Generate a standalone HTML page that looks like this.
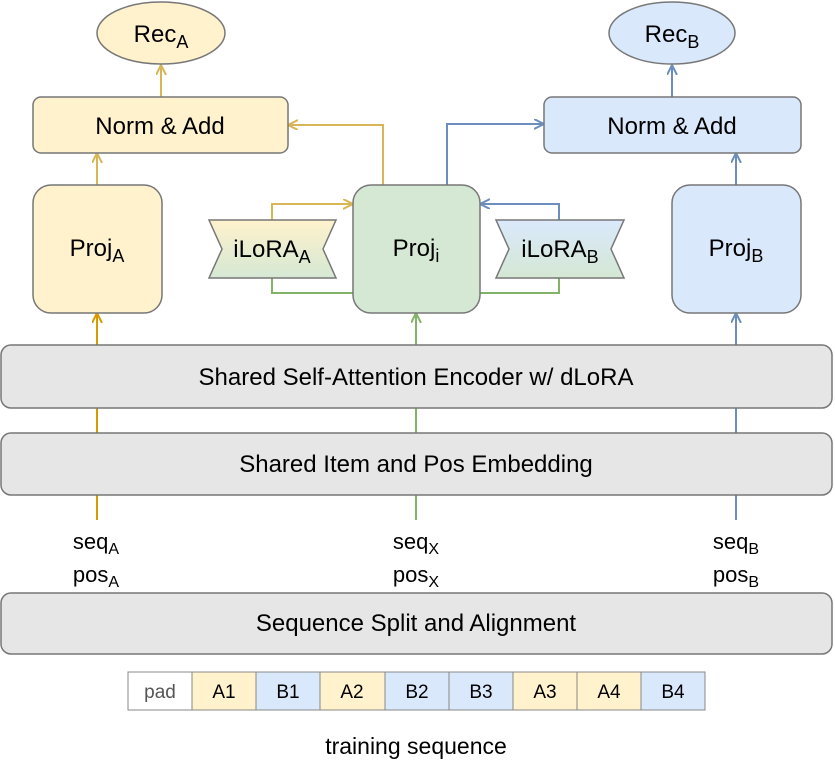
<!DOCTYPE html>
<html><head><meta charset="utf-8"><style>
html,body{margin:0;padding:0;background:#fff;}
svg{display:block;font-family:"Liberation Sans",Arial,sans-serif;}
</style></head><body>
<svg width="835" height="774" viewBox="0 0 835 774" xmlns="http://www.w3.org/2000/svg">
<defs>
<marker id="ay" markerWidth="12" markerHeight="12" refX="9" refY="5" orient="auto" markerUnits="userSpaceOnUse"><path d="M0,0 L10,5 L0,10" fill="none" stroke="#d6b656" stroke-width="2"/></marker>
<marker id="ab" markerWidth="12" markerHeight="12" refX="9" refY="5" orient="auto" markerUnits="userSpaceOnUse"><path d="M0,0 L10,5 L0,10" fill="none" stroke="#6c8ebf" stroke-width="2"/></marker>
<marker id="ag" markerWidth="12" markerHeight="12" refX="9" refY="5" orient="auto" markerUnits="userSpaceOnUse"><path d="M0,0 L10,5 L0,10" fill="none" stroke="#82b366" stroke-width="2"/></marker>
<marker id="ao" markerWidth="12" markerHeight="12" refX="9" refY="5" orient="auto" markerUnits="userSpaceOnUse"><path d="M0,0 L10,5 L0,10" fill="none" stroke="#d79b00" stroke-width="2"/></marker>
<linearGradient id="gy" x1="0" y1="0" x2="0" y2="1"><stop offset="0" stop-color="#fff2cc"/><stop offset="1" stop-color="#d5e8d4"/></linearGradient>
<linearGradient id="gb" x1="0" y1="0" x2="0" y2="1"><stop offset="0" stop-color="#dae8fc"/><stop offset="1" stop-color="#d5e8d4"/></linearGradient>
</defs>

<g fill="none" stroke-width="2">
<line x1="161" y1="97" x2="161" y2="66" stroke="#d6b656" marker-end="url(#ay)"/>
<line x1="97" y1="185" x2="97" y2="154" stroke="#d6b656" marker-end="url(#ay)"/>
<polyline points="383,185 383,125 289,125" stroke="#d6b656" marker-end="url(#ay)"/>
<line x1="672" y1="97" x2="672" y2="66" stroke="#6c8ebf" marker-end="url(#ab)"/>
<line x1="736" y1="185" x2="736" y2="154" stroke="#6c8ebf" marker-end="url(#ab)"/>
<polyline points="447,185 447,124 543,124" stroke="#6c8ebf" marker-end="url(#ab)"/>
<polyline points="272,220 272,204 352,204" stroke="#d6b656" marker-end="url(#ay)"/>
<polyline points="272,278 272,293 353,293" stroke="#82b366"/>
<polyline points="559,220 559,204 481,204" stroke="#6c8ebf" marker-end="url(#ab)"/>
<polyline points="559,278 559,293 480,293" stroke="#82b366"/>
<line x1="97" y1="345" x2="97" y2="314" stroke="#d79b00" marker-end="url(#ao)"/>
<line x1="416" y1="345" x2="416" y2="314" stroke="#82b366" marker-end="url(#ag)"/>
<line x1="736" y1="345" x2="736" y2="314" stroke="#6c8ebf" marker-end="url(#ab)"/>
<line x1="97" y1="408" x2="97" y2="433" stroke="#d79b00"/>
<line x1="416" y1="408" x2="416" y2="433" stroke="#82b366"/>
<line x1="736" y1="408" x2="736" y2="433" stroke="#6c8ebf"/>
<line x1="97" y1="495" x2="97" y2="520" stroke="#d79b00"/>
<line x1="416" y1="495" x2="416" y2="520" stroke="#82b366"/>
<line x1="736" y1="495" x2="736" y2="520" stroke="#6c8ebf"/>
</g>

<g stroke="#777" stroke-width="1.5">
<ellipse cx="161" cy="33" rx="64" ry="31" fill="#fff2cc"/>
<ellipse cx="672" cy="33" rx="63" ry="31" fill="#dae8fc"/>
<rect x="33" y="97" width="255" height="56" rx="8" fill="#fff2cc"/>
<rect x="544" y="97" width="257" height="56" rx="8" fill="#dae8fc"/>
<rect x="33" y="185" width="129" height="128" rx="18" fill="#fff2cc"/>
<rect x="353" y="185" width="127" height="128" rx="18" fill="#d5e8d4"/>
<rect x="672" y="185" width="129" height="128" rx="18" fill="#dae8fc"/>
<polygon points="209,220 336,220 323,249 336,278 209,278 222,249" fill="url(#gy)"/>
<polygon points="496,220 624,220 611,249 624,278 496,278 509,249" fill="url(#gb)"/>
<rect x="1" y="345" width="831" height="63" rx="10" fill="#e6e6e6"/>
<rect x="1" y="433" width="831" height="62" rx="10" fill="#e6e6e6"/>
<rect x="1" y="593" width="831" height="61" rx="10" fill="#e6e6e6"/>
</g>

<g fill="#000" font-size="24" text-anchor="middle">
<text x="161" y="42">Rec<tspan font-size="18" dy="6">A</tspan></text>
<text x="672" y="42">Rec<tspan font-size="18" dy="6">B</tspan></text>
<text x="160" y="134">Norm &amp; Add</text>
<text x="672" y="134">Norm &amp; Add</text>
<text x="97" y="256">Proj<tspan font-size="18" dy="6">A</tspan></text>
<text x="416" y="256">Proj<tspan font-size="18" dy="6">i</tspan></text>
<text x="736" y="256">Proj<tspan font-size="18" dy="6">B</tspan></text>
<text x="272" y="257">iLoRA<tspan font-size="18" dy="6">A</tspan></text>
<text x="560" y="257">iLoRA<tspan font-size="18" dy="6">B</tspan></text>
<text x="416" y="385">Shared Self-Attention Encoder w/ dLoRA</text>
<text x="416" y="472">Shared Item and Pos Embedding</text>
<text x="416" y="631">Sequence Split and Alignment</text>
</g>
<g fill="#000" font-size="22" text-anchor="middle">
<text x="96" y="549">seq<tspan font-size="16" dy="5">A</tspan></text>
<text x="96" y="582">pos<tspan font-size="16" dy="5">A</tspan></text>
<text x="416" y="549">seq<tspan font-size="16" dy="5">X</tspan></text>
<text x="416" y="582">pos<tspan font-size="16" dy="5">X</tspan></text>
<text x="736" y="549">seq<tspan font-size="16" dy="5">B</tspan></text>
<text x="736" y="582">pos<tspan font-size="16" dy="5">B</tspan></text>
</g>

<g stroke="#888" stroke-width="1">
<rect x="128" y="672" width="64" height="38" fill="#fff"/>
<rect x="192" y="672" width="64" height="38" fill="#fff2cc"/>
<rect x="256" y="672" width="64" height="38" fill="#dae8fc"/>
<rect x="320" y="672" width="65" height="38" fill="#fff2cc"/>
<rect x="385" y="672" width="64" height="38" fill="#dae8fc"/>
<rect x="449" y="672" width="64" height="38" fill="#dae8fc"/>
<rect x="513" y="672" width="64" height="38" fill="#fff2cc"/>
<rect x="577" y="672" width="64" height="38" fill="#fff2cc"/>
<rect x="641" y="672" width="64" height="38" fill="#dae8fc"/>
</g>
<g font-size="19" text-anchor="middle" fill="#000">
<text x="160" y="698" fill="#555">pad</text>
<text x="224" y="698">A1</text>
<text x="288" y="698">B1</text>
<text x="352" y="698">A2</text>
<text x="417" y="698">B2</text>
<text x="481" y="698">B3</text>
<text x="545" y="698">A3</text>
<text x="609" y="698">A4</text>
<text x="673" y="698">B4</text>
<text x="416" y="754" font-size="23">training sequence</text>
</g>
</svg>
</body></html>
